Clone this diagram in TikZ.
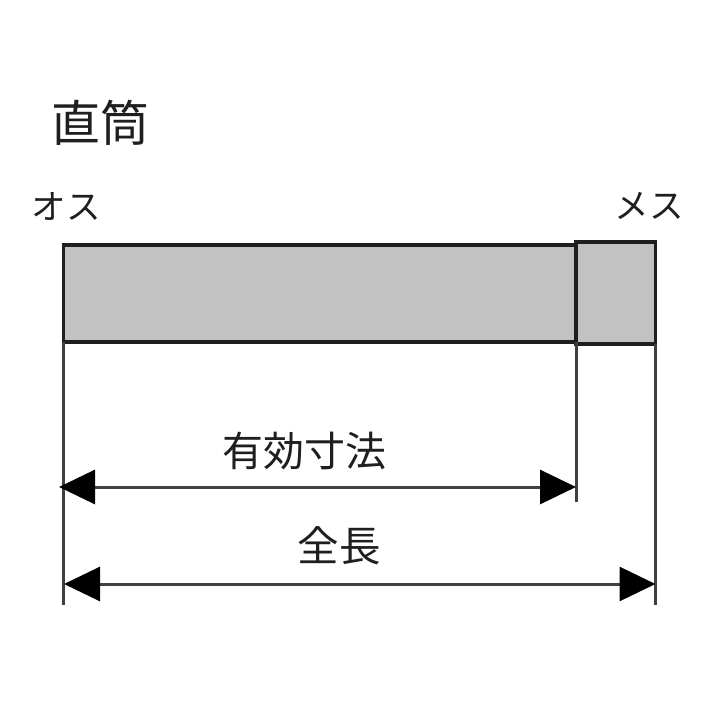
\documentclass[tikz,border=0pt]{standalone}
\usepackage{fontspec}
\setmainfont{Noto Sans CJK JP}
\usetikzlibrary{arrows.meta}
\definecolor{fillg}{gray}{0.76}
\definecolor{ink}{gray}{0.12}
\tikzset{
  x=1pt,y=-1pt,
  outline/.style={draw=ink,line width=3.6pt,line join=miter},
  dimline/.style={draw=ink!85!white,line width=3pt},
  dimarrow/.style={dimline,{Triangle[length=36pt,width=34pt,black]}-{Triangle[length=36pt,width=34pt,black]}},
  lbl/.style={text=ink,inner sep=0pt}
}
\begin{document}
\begin{tikzpicture}
\useasboundingbox (0,0) rectangle (720,720);
\path[fill=white] (0,0) rectangle (720,720);
\node[lbl,font=\fontsize{49}{52}\selectfont] (title) at (100,123) {直筒};
\node[lbl,font=\fontsize{34.5}{37}\selectfont] (male) at (66,206) {オス};
\node[lbl,font=\fontsize{34.5}{37}\selectfont] (female) at (649,206) {メス};
\path[fill=fillg] (63.5,245) rectangle (576,342);
\path[fill=fillg] (576,242) rectangle (655.5,344);
\coordinate (tl) at (63.5,245);
\coordinate (bl) at (63.5,342);
\coordinate (jt) at (576,245);
\coordinate (jb) at (576,342);
\coordinate (st) at (576,242);
\coordinate (rt) at (655.5,242);
\coordinate (rb) at (655.5,344);
\coordinate (sb) at (576,344);
\draw[outline] (jt) -- (tl) -- (bl) -- (jb);
\draw[outline] (sb) -- (st) -- (rt) -- (rb) -- cycle;
\coordinate (lext) at (63.5,605);
\coordinate (mext) at (576,502);
\coordinate (rext) at (655.5,605);
\coordinate (a1l) at (59,487);
\coordinate (a1r) at (576,487);
\coordinate (a2l) at (64,584);
\coordinate (a2r) at (655.5,584);
\draw[dimline] (bl) -- (lext);
\draw[dimline] (jb) -- (mext);
\draw[dimline] (rb) -- (rext);
\draw[dimarrow] (a1l) -- (a1r);
\draw[dimarrow] (a2l) -- (a2r);
\node[lbl,font=\fontsize{41}{44}\selectfont] (eff) at (304,451) {有効寸法};
\node[lbl,font=\fontsize{41.5}{44}\selectfont] (tot) at (339,546) {全長};
\end{tikzpicture}
\end{document}
